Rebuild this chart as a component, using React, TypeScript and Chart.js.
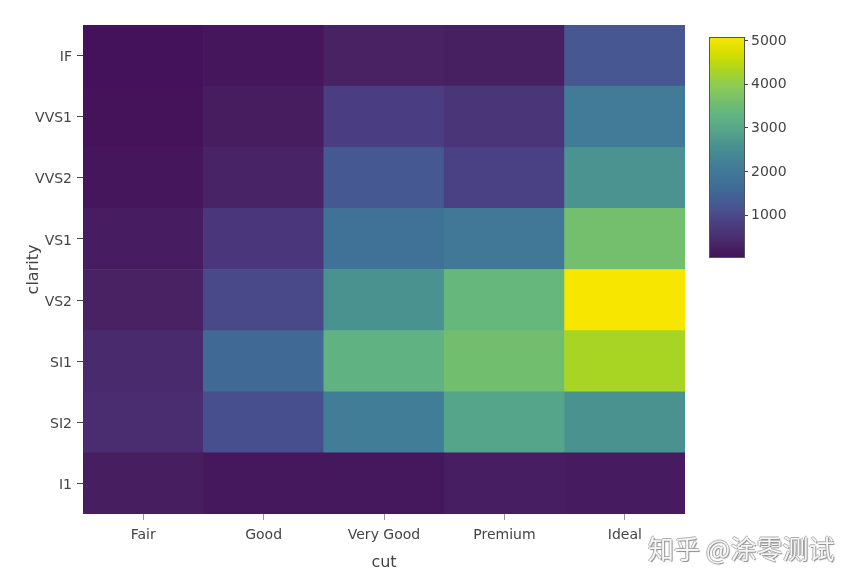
import React, { useEffect, useRef } from "react";
import { Chart, registerables } from "chart.js";

Chart.register(...registerables);

// ---- data ----
const cuts = ["Fair", "Good", "Very Good", "Premium", "Ideal"];
const clarities = ["I1", "SI2", "SI1", "VS2", "VS1", "VVS2", "VVS1", "IF"];
const countI1 = [210, 96, 84, 205, 146];
const countSI2 = [466, 1081, 2100, 2949, 2598];
const countSI1 = [408, 1560, 3240, 3575, 4282];
const countVS2 = [261, 978, 2591, 3357, 5071];
const countVS1 = [170, 648, 1775, 1989, 3589];
const countVVS2 = [69, 286, 1235, 870, 2606];
const countVVS1 = [17, 186, 789, 616, 2047];
const countIF = [9, 71, 268, 230, 1212];
const counts = [countI1, countSI2, countSI1, countVS2, countVS1, countVVS2, countVVS1, countIF];
const colorbarTicks = [1000, 2000, 3000, 4000, 5000];

// ---- colour scale (viridis-like, as rendered) ----
const colorStops: [number, string][] = [
  [0, "#44125a"],
  [0.05, "#482263"],
  [0.1, "#4a3073"],
  [0.16, "#4b3e82"],
  [0.22, "#485290"],
  [0.3, "#406896"],
  [0.4, "#417a98"],
  [0.5, "#488f91"],
  [0.58, "#55a58a"],
  [0.65, "#62b580"],
  [0.71, "#74bf6d"],
  [0.78, "#8ccc55"],
  [0.85, "#abd520"],
  [0.92, "#d2de00"],
  [1, "#f7e600"],
];

const allCounts = counts.flat();
const zmin = Math.min(...allCounts);
const zmax = Math.max(...allCounts);

function hexToRgb(h: string) {
  const n = parseInt(h.slice(1), 16);
  return [(n >> 16) & 255, (n >> 8) & 255, n & 255];
}
function colorFor(v: number) {
  const t = Math.max(0, Math.min(1, (v - zmin) / (zmax - zmin)));
  for (let i = 1; i < colorStops.length; i++) {
    const [t1, c1] = colorStops[i];
    const [t0, c0] = colorStops[i - 1];
    if (t <= t1) {
      const f = (t - t0) / (t1 - t0);
      const a = hexToRgb(c0);
      const b = hexToRgb(c1);
      const r = a.map((x, k) => Math.round(x + (b[k] - x) * f));
      return `rgb(${r[0]},${r[1]},${r[2]})`;
    }
  }
  return colorStops[colorStops.length - 1][1];
}

const FONT = "'DejaVu Sans', Verdana, sans-serif";
const TEXT = "#444";

const colorbarPlugin = {
  id: "colorbar",
  afterDraw(chart: any) {
    const ctx = chart.ctx as CanvasRenderingContext2D;
    const x0 = 709;
    const x1 = 745;
    const top = 37;
    const bottom = 258;
    const h = bottom - top;
    ctx.save();
    const g = ctx.createLinearGradient(0, bottom, 0, top);
    colorStops.forEach(([t, c]) => g.addColorStop(t, c));
    ctx.fillStyle = g;
    ctx.fillRect(x0, top, x1 - x0, h);
    ctx.strokeStyle = "#555";
    ctx.lineWidth = 1;
    ctx.strokeRect(x0 + 0.5, top + 0.5, x1 - x0 - 1, h - 1);
    ctx.font = `14px ${FONT}`;
    ctx.fillStyle = TEXT;
    ctx.textAlign = "left";
    ctx.textBaseline = "middle";
    colorbarTicks.forEach((v) => {
      const y = bottom - ((v - zmin) / (zmax - zmin)) * h;
      ctx.beginPath();
      ctx.moveTo(x1, Math.round(y) + 0.5);
      ctx.lineTo(x1 + 3, Math.round(y) + 0.5);
      ctx.strokeStyle = TEXT;
      ctx.stroke();
      ctx.fillText(String(v), x1 + 6, y + 1);
    });
    ctx.restore();
  },
};

export default function App() {
  const ref = useRef<HTMLCanvasElement | null>(null);

  useEffect(() => {
    document.body.style.margin = "0";
    const canvas = ref.current;
    if (!canvas) return;
    const datasets = clarities.map((cl, i) => ({
      label: cl,
      data: cuts.map(() => 1),
      backgroundColor: counts[i].map((v) => colorFor(v)),
      borderWidth: 0,
      barPercentage: 1,
      categoryPercentage: 1,
    }));
    const chart = new Chart(canvas, {
      type: "bar",
      data: { labels: cuts, datasets },
      plugins: [colorbarPlugin],
      options: {
        animation: false,
        responsive: false,
        devicePixelRatio: 1,
        layout: { padding: { top: 25, right: 170, left: 0, bottom: 0 } },
        plugins: { legend: { display: false }, tooltip: { enabled: false } },
        scales: {
          x: {
            stacked: true,
            offset: true,
            grid: {
              offset: false,
              drawOnChartArea: false,
              drawTicks: true,
              tickLength: 6,
              color: "#999",
            },
            border: { display: false },
            ticks: { color: TEXT, font: { family: FONT, size: 14 }, padding: 7, maxRotation: 0 },
            title: {
              display: true,
              text: "cut",
              color: TEXT,
              font: { family: FONT, size: 16 },
              padding: { top: 0, bottom: 15 },
            },
            afterFit: (s: any) => {
              s.height = 73;
            },
          },
          y: {
            stacked: true,
            min: 0,
            max: clarities.length,
            grid: {
              drawOnChartArea: false,
              drawTicks: true,
              tickLength: 6,
              color: TEXT,
            },
            border: { display: false },
            afterBuildTicks: (s: any) => {
              s.ticks = clarities.map((_, i) => ({ value: i + 0.5 }));
            },
            ticks: {
              autoSkip: false,
              color: TEXT,
              font: { family: FONT, size: 14 },
              padding: 5,
              labelOffset: 2,
              callback: (v: any) => clarities[Math.floor(Number(v))],
            },
            title: {
              display: true,
              text: "clarity",
              color: TEXT,
              font: { family: FONT, size: 16 },
              padding: { top: 24, bottom: 0 },
            },
            afterFit: (s: any) => {
              s.width = 83;
            },
          },
        },
      },
    });
    return () => chart.destroy();
  }, []);

  return (
    <div style={{ position: "absolute", left: 0, top: 0, width: 855, height: 587, background: "#fff" }}>
      <canvas ref={ref} width={855} height={587} style={{ width: 855, height: 587, display: "block" }} />
      <span
        style={{
          position: "absolute",
          left: 648,
          top: 533,
          fontFamily: "'Noto Sans CJK SC', sans-serif",
          fontSize: 26,
          color: "#f6f6f6",
          textShadow: "1px 1px 1px #8a8a8a, -1px 0 0 #b0b0b0, 0 -1px 0 #b0b0b0",
          whiteSpace: "nowrap",
          lineHeight: "30px",
        }}
      >
        知乎 @涂零测试
      </span>
    </div>
  );
}
